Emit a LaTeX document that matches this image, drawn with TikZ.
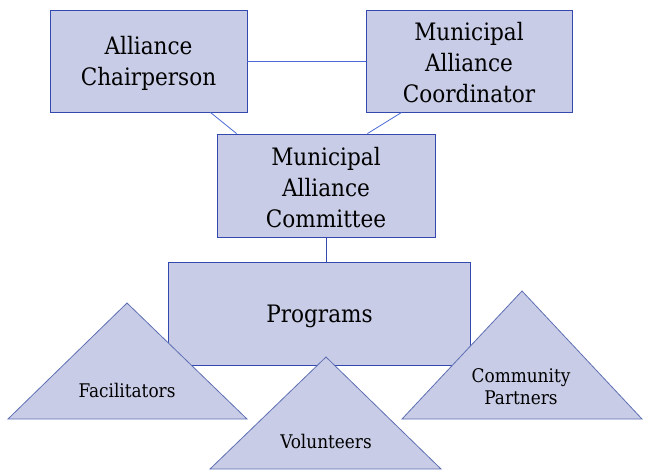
\documentclass[tikz,border=0pt]{standalone}
\usepackage{fontspec}
\setmainfont{DejaVu Serif Condensed}
\usetikzlibrary{calc}
\definecolor{boxfill}{HTML}{C8CCE6}
\definecolor{boxdraw}{HTML}{3349AE}
\definecolor{linkc}{HTML}{4A6AD6}
\definecolor{tridraw}{HTML}{5E6FB4}
\definecolor{txt}{HTML}{000000}
\tikzset{
  orgbox/.style={draw=boxdraw, fill=boxfill, line width=0.9pt, rectangle, inner sep=0pt},
  boxtext/.style={align=center, text=txt, inner sep=0pt, font=\fontsize{24}{31}\selectfont},
  link/.style={draw=linkc, line width=0.8pt},
  tri/.style={draw=tridraw, fill=boxfill, line width=0.8pt, line join=miter},
  trilabel/.style={align=center, text=txt, font=\fontsize{18.8}{22}\selectfont, inner sep=0pt}
}
\begin{document}
\begin{tikzpicture}[x=1pt,y=-1pt]
\useasboundingbox (0,0) rectangle (652,474);
\node[orgbox, minimum width=197pt, minimum height=102pt] (chair) at (148.5,61) {};
\node[boxtext, yshift=-2.5pt] (chairT) at (chair.center) {Alliance\\Chairperson};
\node[orgbox, minimum width=206pt, minimum height=102pt] (coord) at (469,61) {};
\node[boxtext, yshift=-2pt] (coordT) at (coord.center) {Municipal\\Alliance\\Coordinator};
\node[orgbox, minimum width=218pt, minimum height=103pt] (comm) at (326,185.5) {};
\node[boxtext, yshift=-2pt] (commT) at (comm.center) {Municipal\\Alliance\\Committee};
\node[orgbox, minimum width=302pt, minimum height=103pt] (prog) at (319.5,313.5) {};
\node[boxtext, yshift=-3pt] (progT) at (prog.center) {Programs};
\draw[link] (chair.east) -- (coord.west);
\draw[link] ([xshift=-37pt]chair.south east) -- ([xshift=20pt]comm.north west);
\draw[link] ([xshift=36pt]coord.south west) -- ([xshift=-68pt]comm.north east);
\draw[link, draw=boxdraw] (comm.south) -- (comm.south |- prog.north);
% triangles
\coordinate (fa) at (127,303);
\coordinate (fl) at (8,419);
\coordinate (fr) at (247,419);
\draw[tri] (fa) -- (fr) -- (fl) -- cycle;
\node[trilabel] (fac) at (127,390) {Facilitators};
\coordinate (ca) at (522,291);
\coordinate (cl) at (402,419);
\coordinate (cr) at (642,419);
\draw[tri] (ca) -- (cr) -- (cl) -- cycle;
\node[trilabel] (cp) at (521,387) {Community\\Partners};
\coordinate (va) at (326,357);
\coordinate (vl) at (210,469);
\coordinate (vr) at (441,469);
\draw[tri] (va) -- (vr) -- (vl) -- cycle;
\node[trilabel] (vol) at (326,441) {Volunteers};
\end{tikzpicture}
\end{document}
